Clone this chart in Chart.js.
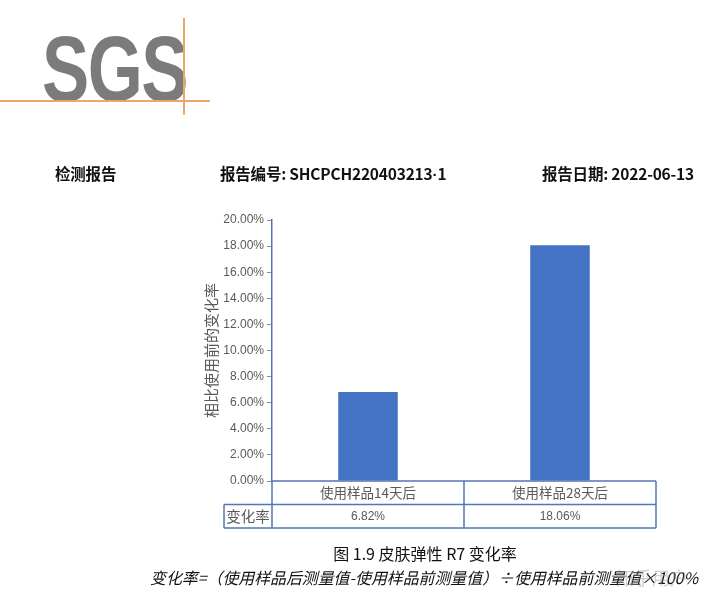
<!DOCTYPE html>
<html><head><meta charset="utf-8">
<script src="https://cdn.jsdelivr.net/npm/chart.js@4.4.1/dist/chart.umd.min.js"></script>
<style>
html,body{margin:0;padding:0;background:#fff;}
#wrap{position:relative;width:720px;height:598px;overflow:hidden;background:#fff;}
canvas{position:absolute;left:0;top:0;}
.t{position:absolute;white-space:nowrap;}
.hdr{font-family:"Noto Sans CJK SC",sans-serif;font-weight:bold;font-size:15.5px;line-height:20px;top:163px;color:#111;letter-spacing:-0.2px;}
.dot{font-family:"Liberation Sans",sans-serif;}
#logo{left:42px;top:17px;font-family:"Liberation Sans",sans-serif;font-weight:bold;font-size:92px;line-height:104px;color:#7b7b7b;letter-spacing:-2px;transform:scaleX(0.77);transform-origin:0 0;}
.ln{position:absolute;background:#e9a868;}
#cap{left:0;width:850px;text-align:center;top:543px;font-family:"Noto Sans CJK SC",sans-serif;font-size:16px;line-height:20px;color:#111;}
#formula{left:150px;top:567px;font-family:"Noto Sans CJK SC",sans-serif;font-style:italic;font-size:15.9px;line-height:22px;color:#111;}
#wm{left:616px;top:564px;font-family:"Noto Sans CJK SC",sans-serif;font-size:18px;color:rgba(150,150,150,0.45);}
</style></head>
<body><div id="wrap">
<canvas id="c" width="720" height="598"></canvas>
<div class="t" id="logo">SGS</div>
<div class="ln" style="left:0;top:100px;width:210px;height:1.5px;"></div>
<div class="ln" style="left:183px;top:18px;width:1.5px;height:97px;"></div>
<div class="t hdr" style="left:55px;">检测报告</div>
<div class="t hdr" style="left:220px;">报告编号: SHCPCH220403213<span class="dot">·</span>1</div>
<div class="t hdr" style="left:542px;">报告日期: 2022-06-13</div>
<div class="t" id="cap">图 1.9 皮肤弹性 R7 变化率</div>
<div class="t" id="formula">变化率=（使用样品后测量值-使用样品前测量值）÷使用样品前测量值×100%</div>
<div class="t" id="wm">知乎用户</div>
</div>
<script>
const categories = ['使用样品14天后', '使用样品28天后'];
const changeRate = [6.82, 18.06];
const rowLabel = '变化率';
const yAxisTitle = '相比使用前的变化率';
const yTickMin = 0, yTickMax = 20, yTickStep = 2;

const blue = '#4472C4';
const lineColor = '#5675b5';
const grey = '#595959';

const tablePlugin = {
  id: 'dataTable',
  afterDraw(chart) {
    const ctx = chart.ctx;
    const x = chart.scales.x;
    const ca = chart.chartArea;
    const n = categories.length;
    const cw = (ca.right - ca.left) / n;
    const rowH = 23.5;
    const y0 = ca.bottom, y1 = y0 + rowH, y2 = y1 + rowH;
    const hdrLeft = ca.left - 48;
    ctx.save();
    ctx.strokeStyle = lineColor;
    ctx.lineWidth = 1.5;
    ctx.beginPath();
    ctx.moveTo(ca.left, y0); ctx.lineTo(ca.right, y0);
    ctx.moveTo(hdrLeft, y1); ctx.lineTo(ca.right, y1);
    ctx.moveTo(hdrLeft, y2); ctx.lineTo(ca.right, y2);
    ctx.moveTo(hdrLeft, y1); ctx.lineTo(hdrLeft, y2);
    ctx.moveTo(ca.left, y0); ctx.lineTo(ca.left, y2);
    for (let i = 0; i < n; i++) {
      const r = x.getPixelForValue(i) + cw / 2;
      ctx.moveTo(r, y0); ctx.lineTo(r, y2);
    }
    ctx.stroke();
    ctx.fillStyle = grey;
    ctx.textAlign = 'center';
    ctx.textBaseline = 'middle';
    ctx.font = '13.5px "Noto Sans CJK SC", sans-serif';
    categories.forEach((c, i) => ctx.fillText(c, x.getPixelForValue(i), (y0 + y1) / 2 + 0.5));
    ctx.font = '12px "Liberation Sans", sans-serif';
    changeRate.forEach((v, i) => ctx.fillText(v.toFixed(2) + '%', x.getPixelForValue(i), (y1 + y2) / 2 + 0.5));
    ctx.font = '14.5px "Noto Sans CJK SC", sans-serif';
    ctx.fillText(rowLabel, (hdrLeft + ca.left) / 2, (y1 + y2) / 2 + 0.5);
    ctx.restore();
  }
};

new Chart(document.getElementById('c'), {
  type: 'bar',
  data: {
    labels: categories,
    datasets: [{ data: changeRate, backgroundColor: blue, borderWidth: 0, barPercentage: 0.31, categoryPercentage: 1 }]
  },
  options: {
    responsive: false,
    animation: false,
    devicePixelRatio: 1,
    layout: { padding: { left: 196, right: 64, top: 220, bottom: 70 } },
    plugins: { legend: { display: false }, tooltip: { enabled: false } },
    scales: {
      x: {
        grid: { display: false, drawTicks: false },
        border: { display: false },
        ticks: { display: false },
        afterFit(s) { s.height = 47; }
      },
      y: {
        min: yTickMin, max: yTickMax,
        ticks: {
          stepSize: yTickStep, color: grey, padding: 3,
          font: { family: '"Liberation Sans", sans-serif', size: 12 },
          callback: v => v.toFixed(2) + '%'
        },
        grid: { drawOnChartArea: false, drawTicks: true, tickLength: 5, color: '#8c8c8c' },
        border: { display: true, color: lineColor, width: 1.5 },
        title: { display: true, text: yAxisTitle, color: grey, padding: { top: 6, bottom: 4 },
          font: { family: '"Noto Sans CJK SC", sans-serif', size: 15 } },
        afterFit(s) { s.width = 76; }
      }
    }
  },
  plugins: [tablePlugin]
});
</script>
</body></html>
